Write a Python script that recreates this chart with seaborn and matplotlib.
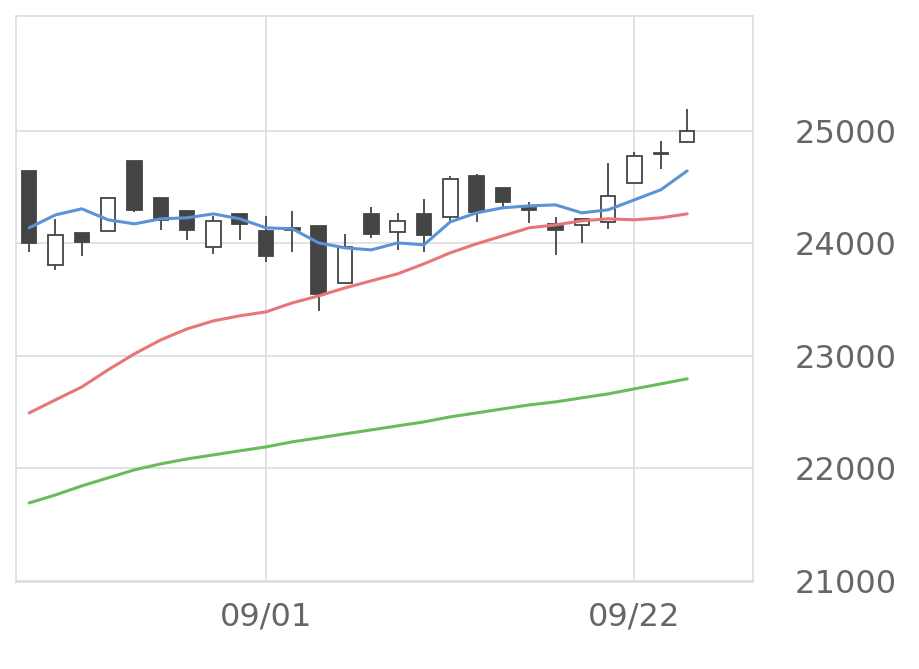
import numpy as np
import pandas as pd
import matplotlib
matplotlib.use("Agg")
import matplotlib.pyplot as plt
import seaborn as sns

opens = [24640, 23810, 24095, 24110, 24735, 24400, 24290, 23970, 24260, 24110, 24140, 24155, 23650,
         24260, 24100, 24260, 24235, 24600, 24495, 24315, 24175, 24165, 24190, 24540, 24790, 24900]
highs = [24640, 24220, 24095, 24400, 24735, 24400, 24290, 24245, 24260, 24245, 24290, 24155, 24085,
         24320, 24270, 24395, 24600, 24620, 24495, 24370, 24230, 24220, 24710, 24815, 24910, 25195]
lows = [23920, 23765, 23890, 24110, 24280, 24120, 24030, 23905, 24030, 23835, 23925, 23400, 23650,
        24050, 23940, 23925, 24190, 24190, 24325, 24180, 23900, 24000, 24130, 24540, 24660, 24890]
closes = [24000, 24075, 24010, 24400, 24300, 24210, 24120, 24200, 24175, 23890, 24120, 23550, 23970,
          24085, 24200, 24075, 24575, 24280, 24370, 24300, 24120, 24220, 24420, 24780, 24800, 25000]
ma_short = [24138, 24253, 24307, 24209, 24173, 24218, 24227, 24262, 24218, 24138, 24129, 24004, 23960,
            23942, 24004, 23987, 24191, 24271, 24316, 24333, 24342, 24271, 24298, 24387, 24476, 24644]
ma_mid = [22493, 22609, 22724, 22876, 23018, 23142, 23240, 23311, 23356, 23391, 23471, 23533, 23604,
          23667, 23729, 23818, 23916, 23996, 24067, 24138, 24164, 24200, 24218, 24209, 24227, 24262]
ma_long = [21693, 21764, 21844, 21916, 21987, 22040, 22084, 22120, 22156, 22191, 22236, 22271, 22307,
           22342, 22378, 22413, 22458, 22493, 22529, 22564, 22591, 22627, 22662, 22707, 22751, 22796]
tick_pos = [9, 23]
tick_labels = ["09/01", "09/22"]
y_ticks = [21000, 22000, 23000, 24000, 25000]

df = pd.DataFrame({"open": opens, "high": highs, "low": lows, "close": closes,
                   "ma5": ma_short, "ma25": ma_mid, "ma75": ma_long})
df["i"] = np.arange(len(df))

sns.set_style("white")
fig = plt.figure(figsize=(9.2, 6.69), dpi=100)
ax = fig.add_axes([0.0174, 0.130, 0.801, 0.846])

dark = "#444444"
ax.vlines(df["i"], df["low"], df["high"], color=dark, lw=1.3, zorder=3)
up = df["close"] >= df["open"]
bottom = np.minimum(df["open"], df["close"])
height = np.abs(df["close"] - df["open"]).clip(lower=8)
ax.bar(df["i"][up], height[up], bottom=bottom[up], width=0.55, color="white",
       edgecolor=dark, lw=1.3, zorder=4)
ax.bar(df["i"][~up], height[~up], bottom=bottom[~up], width=0.55, color=dark,
       edgecolor=dark, lw=1.3, zorder=4)

sns.lineplot(data=df, x="i", y="ma75", color="#6abb5c", lw=2.2, ax=ax, zorder=5)
sns.lineplot(data=df, x="i", y="ma25", color="#e8757a", lw=2.2, ax=ax, zorder=5)
sns.lineplot(data=df, x="i", y="ma5", color="#5b93d6", lw=2.2, ax=ax, zorder=5)

ax.set_xlim(-0.5, 27.5)
ax.set_ylim(20990, 26020)
ax.set_xticks(tick_pos)
ax.set_xticklabels(tick_labels)
ax.set_yticks(y_ticks)
ax.yaxis.tick_right()
ax.grid(True, color="#dddddd", lw=1.2)
ax.set_axisbelow(True)
ax.tick_params(length=0, labelsize=23, colors="#666666")
ax.tick_params(axis="y", pad=30)
ax.tick_params(axis="x", pad=14)
ax.set_xlabel("")
ax.set_ylabel("")
for s in ax.spines.values():
    s.set_color("#dddddd")
    s.set_linewidth(1.2)

fig.savefig("out.png", dpi=100)
